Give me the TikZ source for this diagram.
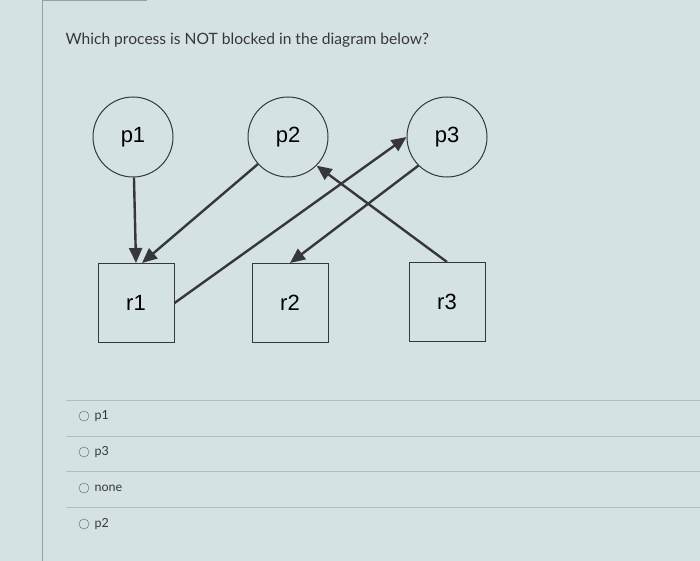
\documentclass[tikz,border=0pt]{standalone}
\usepackage{fontspec}
\setmainfont{Lato}
\newfontfamily\diagfont{Liberation Sans}
\usepackage{tikz}
\usetikzlibrary{arrows.meta}

\definecolor{screen}{RGB}{212,226,228}
\definecolor{ink}{RGB}{55,55,58}
\definecolor{rule}{RGB}{150,160,165}

\tikzset{
  proc/.style={draw=ink, line width=1pt, circle, minimum size=80pt, inner sep=0pt, font=\diagfont\fontsize{22}{22}\selectfont},
  res/.style={draw=ink, line width=1pt, rectangle, minimum width=76pt, minimum height=79pt, inner sep=0pt, font=\diagfont\fontsize{22}{22}\selectfont},
  edge/.style={draw=ink, line width=2.4pt, -{Triangle[length=15pt,width=13pt]}},
  choice/.style={anchor=west, font=\fontsize{12.5}{12.5}\selectfont, text=ink},
  radio/.style={draw=ink!80, circle, minimum size=10pt, inner sep=0pt}
}

\begin{document}
\begin{tikzpicture}[x=1pt,y=-1pt]
\useasboundingbox (0,0) rectangle (700,561);
\fill[screen] (0,0) rectangle (700,561);

% panel frame
\draw[rule, line width=1pt] (147,0.5) -- (42,0.5) -- (42,561);
\foreach \y in {400,436,471,507}
  \draw[rule!70, line width=0.8pt] (66,\y) -- (700,\y);

\node[anchor=west, text=ink, font=\fontsize{15.6}{15.6}\selectfont] (question) at (62,40) {Which process is NOT blocked in the diagram below?};

% processes
\node[proc] (p1) at (133,137) {p1};
\node[proc] (p2) at (288,137) {p2};
\node[proc] (p3) at (447,137) {p3};

% resources
\node[res] (r1) at (136,303) {r1};
\node[res] (r2) at (290,303) {r2};
\node[res] (r3) at (447,302) {r3};

% edges
\draw[edge] (p1) -- (r1.north);
\draw[edge] (p2.222) -- ([xshift=6pt]r1.north);
\draw[edge] (r1.east) -- (p3.west);
\draw[edge] (p3.225) -- (r2.north);
\draw[edge] (r3.north) -- (p2.315);

% answers
\node[radio] (o1) at (84,416) {};
\node[choice] (a1) at (91,416) {p1};
\node[radio] (o2) at (84,452) {};
\node[choice] (a2) at (91,452) {p3};
\node[radio] (o3) at (84,488) {};
\node[choice] (a3) at (91,488) {none};
\node[radio] (o4) at (84,524) {};
\node[choice] (a4) at (91,524) {p2};
\end{tikzpicture}
\end{document}
